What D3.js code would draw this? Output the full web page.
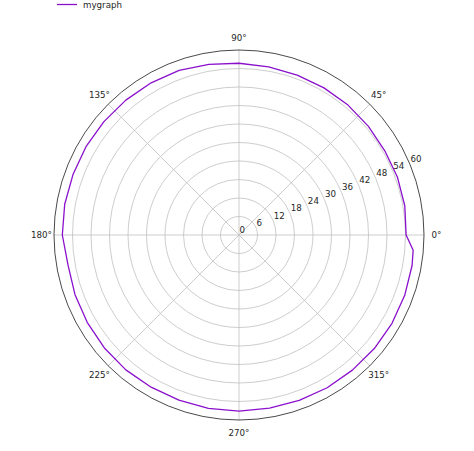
<!DOCTYPE html>
<html>
<head>
<meta charset="utf-8">
<script src="https://cdn.jsdelivr.net/npm/d3@7"></script>
<style>
  body { margin: 0; background: #fff; }
  svg text { font-family: "DejaVu Sans", sans-serif; font-size: 8.7px; fill: #262626; }
</style>
</head>
<body>
<div id="chart"></div>
<script>
// angles in degrees (counter-clockwise from east) and radii
const thetaDeg = [0, 10, 20, 30, 40, 50, 60, 70, 80, 90, 100, 110, 120, 130, 140, 150, 160, 170,
                  180, 190, 200, 210, 220, 230, 240, 250, 260, 270, 280, 290, 300, 310, 320, 330, 340, 350, 355];
const radius = [54.2, 54.6, 54.7, 54.6, 54.8, 55.0, 55.1, 55.2, 55.4, 55.7, 56.2, 56.8, 57.0, 57.1, 57.2, 57.3, 57.3, 57.4,
                57.3, 56.3, 56.6, 56.8, 57.0, 57.1, 57.0, 57.0, 57.1, 57.1, 57.0, 57.1, 57.2, 57.2, 57.3, 57.3, 57.2, 57.0, 56.7];
const rTicks = [0, 6, 12, 18, 24, 30, 36, 42, 48, 54, 60];
const thetaTicks = [0, 45, 90, 135, 180, 225, 270, 315];
const seriesName = "mygraph";

const width = 474, height = 451;
const cx = 239, cy = 235, R = 185;
const lineColor = "#8a10cc";

const svg = d3.select("#chart").append("svg")
  .attr("width", width).attr("height", height);

const r = d3.scaleLinear().domain([0, 60]).range([0, R]);
const rad = d => d * Math.PI / 180;

const g = svg.append("g").attr("transform", "translate(" + cx + "," + cy + ")");

// circular grid (60 is the outer spine)
g.selectAll("circle.grid")
  .data(rTicks.filter(t => t > 0 && t < 60))
  .enter().append("circle")
  .attr("class", "grid")
  .attr("r", d => r(d))
  .attr("fill", "none")
  .attr("stroke", "#c0c0c0")
  .attr("stroke-width", 0.8);

// spokes
g.selectAll("line.spoke")
  .data(thetaTicks)
  .enter().append("line")
  .attr("x1", 0).attr("y1", 0)
  .attr("x2", d => r(60) * Math.cos(rad(d)))
  .attr("y2", d => -r(60) * Math.sin(rad(d)))
  .attr("stroke", "#c0c0c0")
  .attr("stroke-width", 0.8);

// outer spine
g.append("circle")
  .attr("r", r(60))
  .attr("fill", "none")
  .attr("stroke", "#1a1a1a")
  .attr("stroke-width", 0.8);

// data line
const data = thetaDeg.map((t, i) => ({theta: t, r: radius[i]}));
const line = d3.lineRadial()
  .angle(d => Math.PI / 2 - rad(d.theta))
  .radius(d => r(d.r))
  .curve(d3.curveLinearClosed);

g.append("path")
  .datum(data)
  .attr("d", line)
  .attr("fill", "none")
  .attr("stroke", lineColor)
  .attr("stroke-width", 1.3)
  .attr("stroke-linejoin", "round");

// radial tick labels along 22.5 deg
const labAng = rad(22.5);
g.selectAll("text.rtick")
  .data(rTicks)
  .enter().append("text")
  .attr("x", d => r(d) * Math.cos(labAng) + 0.5)
  .attr("y", d => -r(d) * Math.sin(labAng) - 2.3)
  .attr("text-anchor", "start")
  .text(d => d);

// angle labels, centred just outside the spine
const tr = R + 12.5;
g.selectAll("text.ttick")
  .data(thetaTicks)
  .enter().append("text")
  .attr("x", d => tr * Math.cos(rad(d)))
  .attr("y", d => -tr * Math.sin(rad(d)))
  .attr("dy", "0.35em")
  .attr("text-anchor", "middle")
  .text(d => d + "°");

// legend
const leg = svg.append("g");
leg.append("line")
  .attr("x1", 57).attr("x2", 77)
  .attr("y1", 4.5).attr("y2", 4.5)
  .attr("stroke", lineColor)
  .attr("stroke-width", 1.3);
leg.append("text")
  .attr("x", 83).attr("y", 4.5)
  .attr("dy", "0.35em")
  .text(seriesName);
</script>
</body>
</html>
